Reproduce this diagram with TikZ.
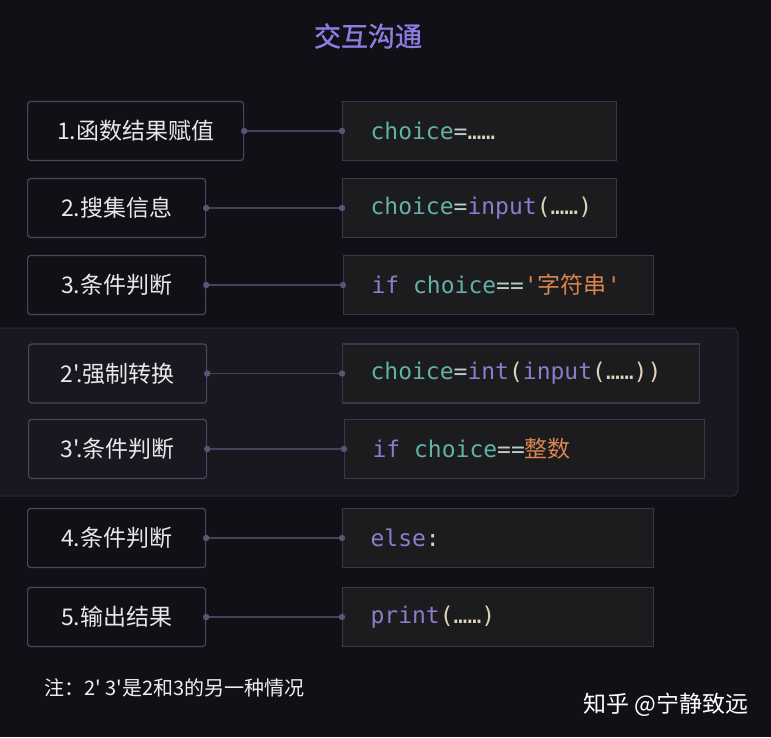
\documentclass[tikz,border=0pt]{standalone}
\usepackage{fontspec}
\usepackage{xcolor}
\newfontfamily\cjk[Ligatures=TeXOff]{Noto Sans CJK SC}
\newfontfamily\cjktitle[FakeBold=1.2]{Noto Sans CJK SC}
\newfontfamily\code[Ligatures=TeXOff]{DejaVu Sans Mono}
\definecolor{bgdark}{HTML}{111016}
\definecolor{groupfill}{HTML}{19171F}
\definecolor{groupline}{HTML}{2B2839}
\definecolor{lboxline}{HTML}{4A4562}
\definecolor{rboxfill}{HTML}{1C1B1E}
\definecolor{rboxline}{HTML}{3A374D}
\definecolor{linkline}{HTML}{47425C}
\definecolor{dotcol}{HTML}{5A5479}
\definecolor{labeltext}{HTML}{E8E8E8}
\definecolor{titlecol}{HTML}{8C7DE3}
\definecolor{kwpurple}{HTML}{8D7CCB}
\definecolor{varteal}{HTML}{62B2AA}
\definecolor{eqcol}{HTML}{B9CCC6}
\definecolor{puncol}{HTML}{DDD3B8}
\definecolor{strorange}{HTML}{D9854F}
\newcommand{\apos}{\char"27\relax}
\newcommand{\csp}{\hspace{0.602em}}
\newcommand{\ckw}[1]{\textcolor{kwpurple}{#1}}
\newcommand{\cvar}[1]{\textcolor{varteal}{#1}}
\newcommand{\ceq}[1]{\textcolor{eqcol}{#1}}
\newcommand{\cpun}[1]{\textcolor{puncol}{#1}}
\newcommand{\cstr}[1]{\textcolor{strorange}{#1}}

\begin{document}
\begin{tikzpicture}[x=1pt,y=-1pt,
	lbox/.style={draw=lboxline,line width=1.2pt,rounded corners=3pt,anchor=west,
		minimum height=59pt,inner sep=0pt,text=labeltext,
		font=\cjk\fontsize{23}{23}\selectfont},
	rbox/.style={draw=rboxline,fill=rboxfill,line width=1.2pt,anchor=west,
		minimum height=59pt,inner xsep=28pt,inner ysep=0pt,align=left,
		font=\code\fontsize{23}{23}\selectfont},
	link/.style={draw=linkline,line width=1.2pt}]
	% page and background
	\useasboundingbox (0,0) rectangle (771,737);
	\fill[bgdark] (0,0) rectangle (771,737);
	% band behind the 2' and 3' rows
	\draw[fill=groupfill,draw=groupline,line width=1pt,rounded corners=6pt] (-10,328) rectangle (738,496);
	
	\node[font=\cjktitle\fontsize{27}{27}\selectfont,text=titlecol] (title) at (368,36) {交互沟通};
	
	% steps on the left
	\node[lbox,minimum width=216pt] (l1) at (27,131) {1.函数结果赋值};
	\node[lbox,minimum width=178pt] (l2) at (27,208) {2.搜集信息};
	\node[lbox,minimum width=178pt] (l3) at (27,285) {3.条件判断};
	\node[lbox,minimum width=178pt] (l2p) at (28,373.5) {2\apos.强制转换};
	\node[lbox,minimum width=178pt] (l3p) at (28,449) {3\apos.条件判断};
	\node[lbox,minimum width=178pt] (l4) at (27,538) {4.条件判断};
	\node[lbox,minimum width=178pt] (l5) at (27,617) {5.输出结果};
	
	% code on the right
	\node[rbox,text width=218pt] (r1) at (342,131) {\cvar{choice}\ceq{=}\cpun{……}};
	\node[rbox,text width=218pt] (r2) at (342,208) {\cvar{choice}\ceq{=}\ckw{input}\cpun{(……)}};
	\node[rbox,text width=254pt] (r3) at (343,285) {\ckw{if}\csp\cvar{choice}\ceq{==}\cstr{\apos{\cjk 字符串}\apos}};
	\node[rbox,text width=301pt] (r2p) at (342,373.5) {\cvar{choice}\ceq{=}\ckw{int}\cpun{(}\ckw{input}\cpun{(……))}};
	\node[rbox,text width=304pt] (r3p) at (344,449) {\ckw{if}\csp\cvar{choice}\ceq{==}\cstr{\cjk 整数}};
	\node[rbox,text width=255pt] (r4) at (342,538) {\ckw{else}\cpun{:}};
	\node[rbox,text width=255pt] (r5) at (342,617) {\ckw{print}\cpun{(……)}};
	
	\foreach \i in {1,2,3,2p,3p,4,5}{
		\draw[link] (l\i.east) -- (r\i.west);
		\fill[dotcol] (l\i.east) circle[radius=3.2pt] (r\i.west) circle[radius=3.2pt];
	}
	
	\node[anchor=west,text=labeltext!70,font=\cjk\fontsize{20}{20}\selectfont] (note) at (41,688) {注：2\apos{} 3\apos{}是2和3的另一种情况};
	\node[anchor=east,text=white,font=\cjk\fontsize{23}{23}\selectfont] (mark) at (752,705) {知乎 @宁静致远};
\end{tikzpicture}
\end{document}
